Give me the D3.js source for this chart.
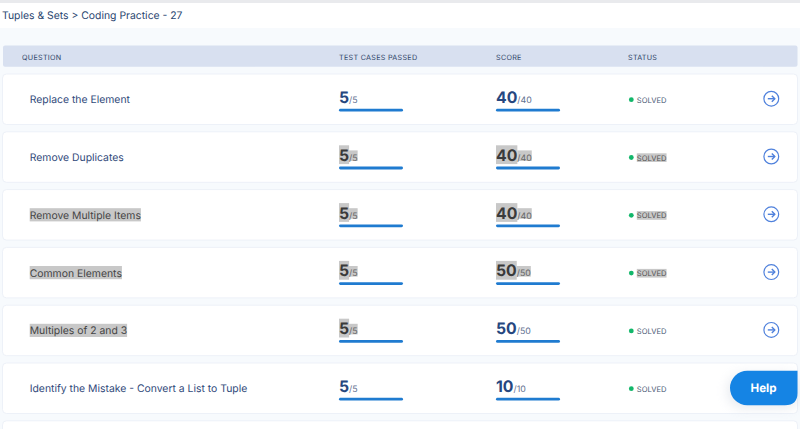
<!DOCTYPE html>
<html>
<head>
<meta charset="utf-8">
<style>
  html, body { margin: 0; padding: 0; background: #f7fafd; overflow: hidden; }
  svg { display: block; font-family: Inter, "Noto Sans", sans-serif; text-rendering: geometricPrecision; }
</style>
<script src="https://cdn.jsdelivr.net/npm/d3@7"></script>
</head>
<body>
<svg id="chart"></svg>
<script>
// Datos de la tabla
const breadcrumb = "Tuples & Sets > Coding Practice - 27";
const columns = ["QUESTION", "TEST CASES PASSED", "SCORE", "STATUS"];
const questions = ["Replace the Element", "Remove Duplicates", "Remove Multiple Items", "Common Elements", "Multiples of 2 and 3", "Identify the Mistake - Convert a List to Tuple"];
const casesPassed = [5, 5, 5, 5, 5, 5];
const casesTotal = [5, 5, 5, 5, 5, 5];
const scores = [40, 40, 40, 50, 50, 10];
const scoresTotal = [40, 40, 40, 50, 50, 10];
const statuses = ["SOLVED", "SOLVED", "SOLVED", "SOLVED", "SOLVED", "SOLVED"];

// Filas con texto seleccionado (gris)
const selQuestion = [false, false, true, true, true, false];
const selCases = [false, true, true, true, true, false];
const selScore = [false, true, true, true, false, false];
const selStatus = [false, true, true, true, false, false];

const width = 800;
const height = 429;
const navy = "#30497a";
const selColor = "#c8c8c8";

const svg = d3.select("#chart").attr("width", width).attr("height", height);

// Escalas
const rowTop = d3.scaleLinear().domain([0, 1]).range([74, 131.8]);
const rowH = 50.5;
const colX = d3.scaleOrdinal().domain(columns).range([22, 339, 496, 628]);
const barW = d3.scaleLinear().domain([0, 1]).range([0, 64]);

// Barra superior y cabecera
svg.append("rect").attr("width", width).attr("height", 3).attr("fill", "#e9eaed");
svg.append("rect").attr("y", 3).attr("width", width).attr("height", 25).attr("fill", "#fff");
svg.append("text").attr("x", 2).attr("y", 18.5)
    .attr("font-size", 10.4).attr("fill", "#2a4670").text(breadcrumb);

// Cabecera de la tabla
svg.append("rect").attr("x", 3).attr("y", 45.5).attr("width", 794.5).attr("height", 21.3)
    .attr("rx", 2).attr("fill", "#d8e0f0");
svg.selectAll(".col").data(columns).enter().append("text")
    .attr("class", "col")
    .attr("x", d => colX(d)).attr("y", 59.7)
    .attr("font-size", 7.2).attr("letter-spacing", 0.28).attr("fill", "#2f4468")
    .text(d => d);

// Texto con fondo gris cuando está seleccionado
function label(g, x, y, text, size, weight, color, selected, selTop, selH, selText) {
    const t = g.append("text").attr("x", x).attr("y", y)
        .attr("font-size", size).attr("font-weight", weight)
        .attr("fill", selected ? selText : color).text(text);
    const w = t.node().getComputedTextLength();
    if (selected) {
        g.insert("rect", "text").attr("x", x).attr("y", selTop).attr("width", w).attr("height", selH).attr("fill", selColor);
    }
    return w;
}

const rows = questions.map((q, i) => i);

// Tarjeta parcial de abajo
svg.append("rect").attr("x", 2.5).attr("y", rowTop(6)).attr("width", 795).attr("height", 40)
    .attr("rx", 4).attr("fill", "#fff").attr("stroke", "#edf1f8");

rows.forEach(i => {
    const top = rowTop(i);
    const g = svg.append("g").attr("transform", `translate(0, ${top})`);

    g.append("rect").attr("x", 2.5).attr("y", 0).attr("width", 795).attr("height", rowH)
        .attr("rx", 4).attr("fill", "#fff").attr("stroke", "#edf1f8");

    // Pregunta
    const qg = g.append("g");
    label(qg, 29.7, 29.2, questions[i], 10.4, 400, navy, selQuestion[i], 18.6, 13.2, "#444");

    // Casos de prueba
    const cg = g.append("g");
    const w1 = label(cg, 339, 29, casesPassed[i], 15.8, 700, "#26477f", selCases[i], 13.5, 18.8, "#3a3a3a");
    label(cg, 339 + w1, 29, "/" + casesTotal[i], 8.8, 400, "#5f7090", selCases[i], 18.6, 10.6, "#666");
    g.append("rect").attr("x", 339).attr("y", 34.8).attr("height", 2.8).attr("rx", 1.4)
        .attr("width", barW(casesPassed[i] / casesTotal[i])).attr("fill", "#1f7bd0");

    // Puntuación
    const sg = g.append("g");
    const w2 = label(sg, 496, 29, scores[i], 15.8, 700, "#26477f", selScore[i], 13.5, 18.8, "#3a3a3a");
    label(sg, 496 + w2, 29, "/" + scoresTotal[i], 8.8, 400, "#5f7090", selScore[i], 18.6, 10.6, "#666");
    g.append("rect").attr("x", 496).attr("y", 34.8).attr("height", 2.8).attr("rx", 1.4)
        .attr("width", barW(scores[i] / scoresTotal[i])).attr("fill", "#1f7bd0");

    // Estado
    g.append("circle").attr("cx", 631.3).attr("cy", 25.7).attr("r", 2.4).attr("fill", "#12b76a");
    const stg = g.append("g");
    label(stg, 636.8, 28.8, statuses[i], 7.6, 400, "#4a5a75", selStatus[i], 21.5, 8.7, "#555");

    // Flecha
    if (i < 5) {
        const a = g.append("g").attr("transform", "translate(771.3, 24.7)")
            .attr("fill", "none").attr("stroke", "#4f81dc").attr("stroke-width", 1.2);
        a.append("circle").attr("r", 7.4);
        a.append("path").attr("d", d3.line()([[-3.5, 0], [3.5, 0]])).attr("stroke-width", 1.4);
        a.append("path").attr("d", d3.line()([[0.5, -3], [3.5, 0], [0.5, 3]])).attr("stroke-width", 1.4);
    }
});

// Botón de ayuda
const defs = svg.append("defs");
const blur = defs.append("filter").attr("id", "soft").attr("x", "-30%").attr("y", "-50%").attr("width", "160%").attr("height", "220%");
blur.append("feGaussianBlur").attr("stdDeviation", 6);
svg.append("rect").attr("x", 728).attr("y", 374).attr("width", 72).attr("height", 34)
    .attr("rx", 15).attr("fill", "#c3cbd8").attr("opacity", 0.4).attr("filter", "url(#soft)");
svg.append("path")
    .attr("d", "M797.5 370.7 H747.5 A17.3 17.3 0 0 0 730 388 A17.3 17.3 0 0 0 747.5 405.3 H785 Q797.5 405.3 797.5 393 Z")
    .attr("fill", "#1584e4");
svg.append("text").attr("x", 763.5).attr("y", 392.4).attr("text-anchor", "middle")
    .attr("font-size", 11.6).attr("font-weight", 700).attr("fill", "#fff").text("Help");
</script>
</body>
</html>
